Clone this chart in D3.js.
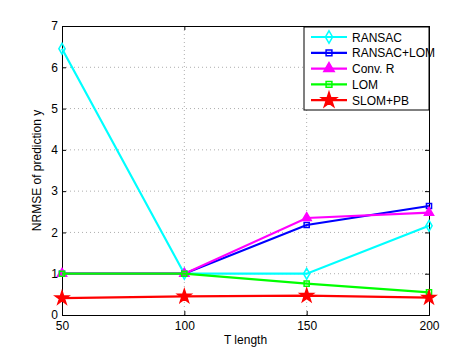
<!DOCTYPE html>
<html><head><meta charset="utf-8">
<script src="https://cdn.jsdelivr.net/npm/d3@7"></script>
<style>body{margin:0;background:#fff}svg{display:block}text{font-family:"Liberation Sans",Arial,sans-serif}</style>
</head><body>
<svg id="c" width="474" height="355"></svg>
<script>
const xValues = [50, 100, 150, 200];
const yTicks = [0, 1, 2, 3, 4, 5, 6, 7];
const seriesNames = ["RANSAC", "RANSAC+LOM", "Conv. R", "LOM", "SLOM+PB"];
const ransac = [6.45, 1.0, 1.0, 2.16];
const ransacLom = [1.0, 1.0, 2.18, 2.64];
const convR = [1.0, 1.0, 2.35, 2.48];
const lom = [1.0, 1.0, 0.76, 0.55];
const slomPb = [0.41, 0.45, 0.47, 0.42];
const colors = ["#00ffff", "#0000ff", "#ff00ff", "#00ff00", "#ff0000"];
const markers = ["diamond", "square", "triangle", "square", "star"];

const svg = d3.select("#c");
const L = 62, R = 429, T = 26, B = 315;
const x = d3.scaleLinear().domain([50, 200]).range([L, R]);
const y = d3.scaleLinear().domain([0, 7]).range([B, T]);

// grid
const g = svg.append("g");
g.selectAll(".gx").data(xValues.slice(1, -1)).enter().append("line")
  .attr("x1", d => x(d)).attr("x2", d => x(d)).attr("y1", T).attr("y2", B)
  .attr("stroke", "#999").attr("stroke-width", 0.8).attr("stroke-dasharray", "1,3");
g.selectAll(".gy").data(yTicks.slice(1, -1)).enter().append("line")
  .attr("x1", L).attr("x2", R).attr("y1", d => y(d)).attr("y2", d => y(d))
  .attr("stroke", "#999").attr("stroke-width", 0.8).attr("stroke-dasharray", "1,3");

// axes
svg.append("g").attr("transform", `translate(0,${B})`)
  .call(d3.axisBottom(x).tickValues(xValues).tickSize(-4).tickPadding(6).tickFormat(d3.format("d")));
svg.append("g").attr("transform", `translate(${L},0)`)
  .call(d3.axisLeft(y).tickValues(yTicks).tickSize(-4).tickPadding(4).tickFormat(d3.format("d")));
svg.append("g").attr("transform", `translate(0,${T})`)
  .call(d3.axisTop(x).tickValues(xValues).tickSize(-4).tickFormat(""));
svg.append("g").attr("transform", `translate(${R},0)`)
  .call(d3.axisRight(y).tickValues(yTicks).tickSize(-4).tickFormat(""));
svg.selectAll(".domain").attr("stroke", "#000");
svg.selectAll(".tick line").attr("stroke", "#000");
svg.selectAll(".tick text").attr("font-size", 12).attr("fill", "#000")
  .attr("font-family", '"Liberation Sans",Arial,sans-serif');

// labels
svg.append("text").attr("x", (L + R) / 2).attr("y", 344).attr("text-anchor", "middle")
  .attr("font-size", 12).text("T length");
svg.append("text").attr("transform", `translate(41,${(T + B) / 2}) rotate(-90)`)
  .attr("text-anchor", "middle").attr("font-size", 12).text("NRMSE of prediction y");

const symMap = {diamond: d3.symbolDiamond, square: d3.symbolSquare, triangle: d3.symbolTriangle, star: d3.symbolStar};
const symSize = {diamond: 34, square: 26, triangle: 36, star: 55};
const isFilled = m => m === "star" || m === "triangle";
const allSeries = [ransac, ransacLom, convR, lom, slomPb];
const line = d3.line().x((d, i) => x(xValues[i])).y(d => y(d));
const plot = svg.append("g");
allSeries.forEach((s, k) => {
  plot.append("path").datum(s).attr("d", line).attr("fill", "none")
    .attr("stroke", colors[k]).attr("stroke-width", 2.2);
  plot.selectAll(null).data(s).enter().append("path")
    .attr("d", d3.symbol().type(symMap[markers[k]]).size(symSize[markers[k]]))
    .attr("transform", (d, i) => `translate(${x(xValues[i])},${y(d)})`)
    .attr("fill", isFilled(markers[k]) ? colors[k] : "none")
    .attr("stroke", colors[k]).attr("stroke-width", 1.5);
});

// legend
const lg = svg.append("g");
const lx = 304, ly = 27, lw = 125, lh = 83;
lg.append("rect").attr("x", lx).attr("y", ly).attr("width", lw).attr("height", lh)
  .attr("fill", "#fff").attr("stroke", "#000").attr("stroke-width", 1);
seriesNames.forEach((n, k) => {
  const yy = ly + 10 + k * 15.8;
  lg.append("line").attr("x1", lx + 7).attr("x2", lx + 43).attr("y1", yy).attr("y2", yy)
    .attr("stroke", colors[k]).attr("stroke-width", 2.2);
  lg.append("path").attr("d", d3.symbol().type(symMap[markers[k]]).size(symSize[markers[k]] * 1.3)())
    .attr("transform", `translate(${lx + 25},${yy})`)
    .attr("fill", isFilled(markers[k]) ? colors[k] : "none")
    .attr("stroke", colors[k]).attr("stroke-width", 1.5);
  lg.append("text").attr("x", lx + 48).attr("y", yy + 4.5).attr("font-size", 12).text(n);
});
</script>
</body></html>
